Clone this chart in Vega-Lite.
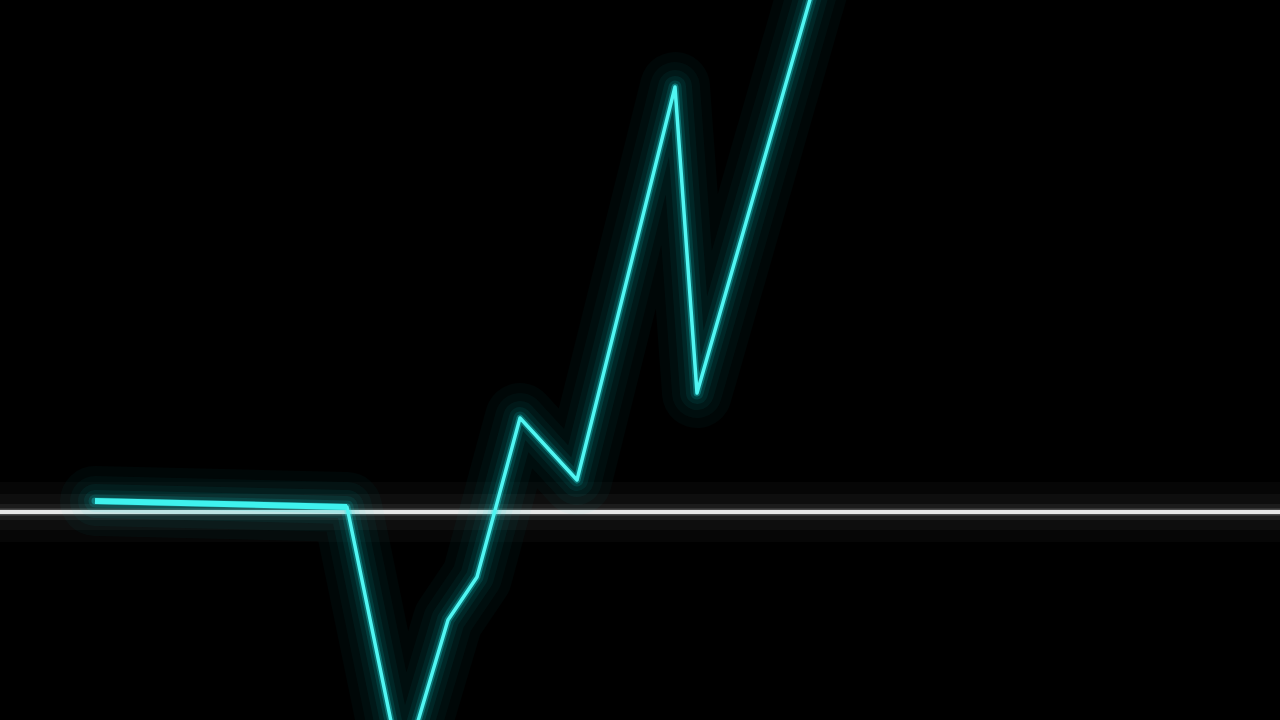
{
  "$schema": "https://vega.github.io/schema/vega-lite/v6.json",
  "width": 1280,
  "height": 720,
  "autosize": {"type": "none"},
  "padding": 0,
  "background": "#000000",
  "config": {"view": {"stroke": null}},
  "datasets": {
    "signal": [
      {"t": 95, "v": 11},
      {"t": 347, "v": 5},
      {"t": 402, "v": -263},
      {"t": 448, "v": -108},
      {"t": 477, "v": -65},
      {"t": 520, "v": 94},
      {"t": 577, "v": 32},
      {"t": 675, "v": 425},
      {"t": 697, "v": 119},
      {"t": 830, "v": 582}
    ],
    "baseline": [{"v": 0, "t0": 0, "t1": 1280}]
  },
  "layer": [
    {
      "data": {"name": "baseline"},
      "encoding": {
        "x": {"field": "t0", "type": "quantitative", "scale": {"domain": [0, 1280], "nice": false, "zero": false}, "axis": null},
        "x2": {"field": "t1"},
        "y": {"field": "v", "type": "quantitative", "scale": {"domain": [-208, 512], "nice": false, "zero": false}, "axis": null}
      },
      "layer": [
        {"mark": {"type": "rule", "color": "#ffffff", "strokeWidth": 60, "opacity": 0.025}},
        {"mark": {"type": "rule", "color": "#ffffff", "strokeWidth": 36, "opacity": 0.035}},
        {"mark": {"type": "rule", "color": "#ffffff", "strokeWidth": 16, "opacity": 0.06}},
        {"mark": {"type": "rule", "color": "#ffffff", "strokeWidth": 7, "opacity": 0.2}},
        {"mark": {"type": "rule", "color": "#e6e6e6", "strokeWidth": 4}}
      ]
    },
    {
      "data": {"name": "signal"},
      "encoding": {
        "x": {"field": "t", "type": "quantitative", "scale": {"domain": [0, 1280], "nice": false, "zero": false}, "axis": null},
        "y": {"field": "v", "type": "quantitative", "scale": {"domain": [-208, 512], "nice": false, "zero": false}, "axis": null}
      },
      "layer": [
        {"mark": {"type": "line", "color": "#00d0d0", "strokeWidth": 70, "opacity": 0.03, "clip": true, "strokeJoin": "round", "strokeCap": "round"}},
        {"mark": {"type": "line", "color": "#00d8d8", "strokeWidth": 50, "opacity": 0.04, "clip": true, "strokeJoin": "round", "strokeCap": "round"}},
        {"mark": {"type": "line", "color": "#00e0e0", "strokeWidth": 34, "opacity": 0.05, "clip": true, "strokeJoin": "round", "strokeCap": "round"}},
        {"mark": {"type": "line", "color": "#00e5e5", "strokeWidth": 22, "opacity": 0.07, "clip": true, "strokeJoin": "round", "strokeCap": "round"}},
        {"mark": {"type": "line", "color": "#10eaea", "strokeWidth": 13, "opacity": 0.12, "clip": true, "strokeJoin": "round", "strokeCap": "round"}},
        {"mark": {"type": "line", "color": "#20f0f0", "strokeWidth": 7, "opacity": 0.3, "clip": true, "strokeJoin": "round", "strokeCap": "round"}},
        {"mark": {"type": "line", "color": "#50f5f2", "strokeWidth": 3.5, "clip": true, "strokeJoin": "round"}},
        {"transform": [{"filter": "datum.t <= 347"}], "mark": {"type": "line", "color": "#3ff2ee", "strokeWidth": 6, "clip": true, "strokeJoin": "round"}}
      ]
    }
  ]
}
